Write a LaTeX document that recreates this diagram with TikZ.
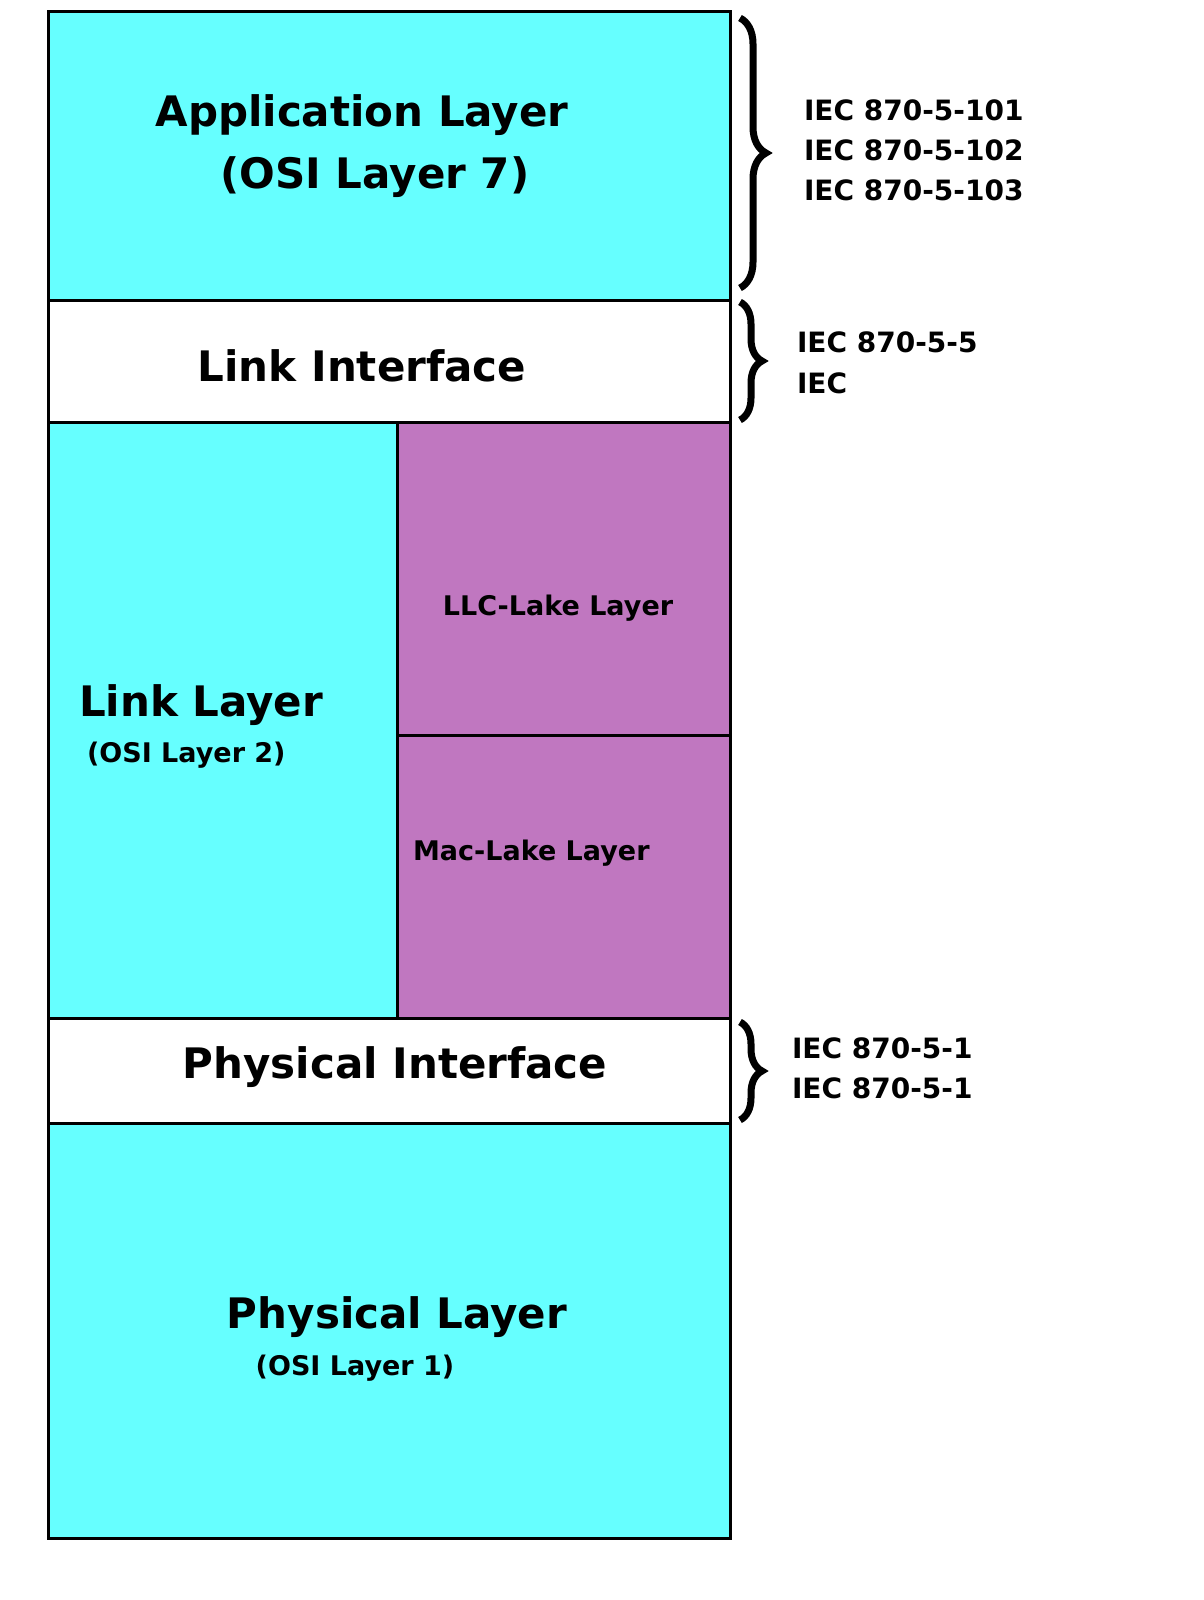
\documentclass[tikz,border=0pt]{standalone}
\usepackage{fontspec}
\setmainfont{DejaVu Sans}
\usetikzlibrary{decorations.pathreplacing}
\definecolor{cy}{HTML}{66FFFF}
\definecolor{pu}{HTML}{C077C0}
\begin{document}
\begin{tikzpicture}[x=0.5pt,y=-0.5pt,
  box/.style={draw=black,line width=1.5pt},
  big/.style={font=\bfseries\fontsize{21}{24}\selectfont},
  mid/.style={font=\bfseries\fontsize{13.5}{17}\selectfont},
  lab/.style={font=\bfseries\fontsize{14}{20}\selectfont,anchor=west},
  br/.style={decorate,decoration={brace,amplitude=13pt},line width=3.5pt}]
\useasboundingbox (0,0) rectangle (1204,1600);
\fill[cy] (48,12) rectangle (730,300);
\fill[white] (48,300) rectangle (730,422);
\fill[cy] (48,422) rectangle (397,1018);
\fill[pu] (397,422) rectangle (730,1018);
\fill[white] (48,1018) rectangle (730,1123);
\fill[cy] (48,1123) rectangle (730,1538);
\draw[box] (48,12) rectangle (730,1538);
\draw[box] (48,300) -- (730,300) (48,422) -- (730,422) (48,1018) -- (730,1018) (48,1123) -- (730,1123);
\draw[box] (397,422) -- (397,1018) (397,735) -- (730,735);
\node[big] (app) at (362,115) {Application Layer};
\node[big] (app2) at (375,177) {(OSI Layer 7)};
\node[big] (li) at (362,366) {Link Interface};
\node[big,anchor=west] (ll) at (72,705) {Link Layer};
\node[mid,anchor=west] (ll2) at (80,755) {(OSI Layer 2)};
\node[mid] (llc) at (558,608) {LLC-Lake Layer};
\node[mid,anchor=west] (mac) at (406,853) {Mac-Lake Layer};
\node[big] (pi) at (395,1067) {Physical Interface};
\node[big] (pl) at (397,1317) {Physical Layer};
\node[mid] (pl2) at (355,1368) {(OSI Layer 1)};
\coordinate (b1a) at (740,18); \coordinate (b1b) at (740,288);
\draw[br] (b1a) -- (b1b);
\coordinate (b2a) at (740,302); \coordinate (b2b) at (740,420);
\draw[br,decoration={amplitude=11pt}] (b2a) -- (b2b);
\coordinate (b3a) at (740,1022); \coordinate (b3b) at (740,1120);
\draw[br,decoration={amplitude=11pt}] (b3a) -- (b3b);
\node[lab] (i1) at (797,110) {IEC 870-5-101};
\node[lab] (i2) at (797,150) {IEC 870-5-102};
\node[lab] (i3) at (797,190) {IEC 870-5-103};
\node[lab] (i4) at (790,342) {IEC 870-5-5};
\node[lab] (i5) at (790,383) {IEC};
\node[lab] (i6) at (785,1048) {IEC 870-5-1};
\node[lab] (i7) at (785,1088) {IEC 870-5-1};
\end{tikzpicture}
\end{document}
